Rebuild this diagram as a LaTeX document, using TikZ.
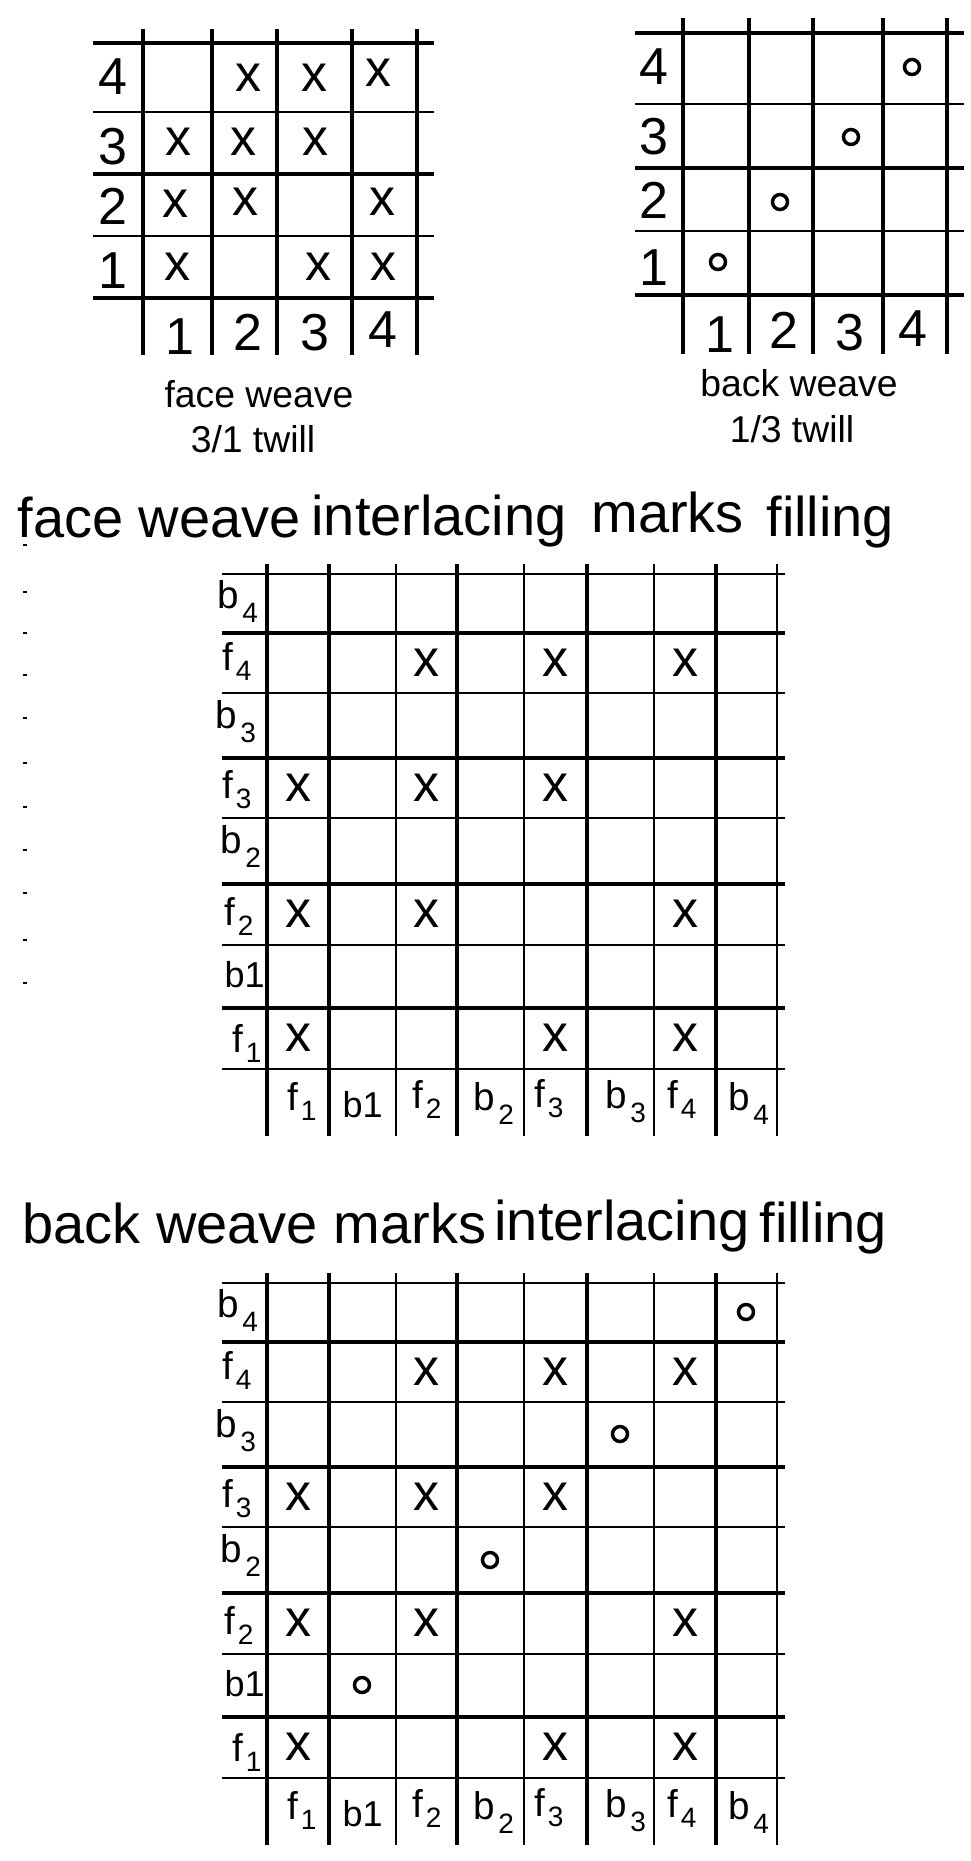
\documentclass[tikz,border=0pt]{standalone}
\usepackage{fontspec}
\setmainfont{Liberation Sans}
\newcommand{\bsub}[1]{b\kern2.5pt\raisebox{-10.5pt}{\fontsize{21}{21}\selectfont #1}}
\newcommand{\fsub}[1]{f\kern2pt\raisebox{-7.5pt}{\fontsize{21}{21}\selectfont #1}}
\newcommand{\bone}{{\fontsize{27}{27}\selectfont b1}}
\tikzset{every picture/.style={line width=0.75pt}}
\tikzset{
  thk/.style={line width=2.6pt},
  thn/.style={line width=2pt},
  edge/.style={line width=3.2pt},
  digit/.style={font=\fontsize{39}{39}\selectfont, inner sep=0pt},
  xmark/.style={font=\fontsize{39}{39}\selectfont, inner sep=0pt},
  caption/.style={font=\fontsize{28}{28}\selectfont, inner sep=0pt, anchor=base},
  heading/.style={font=\fontsize{42}{42}\selectfont, inner sep=0pt, anchor=base west},
  wlabel/.style={font=\fontsize{29}{29}\selectfont, inner sep=0pt, anchor=base west},
  ring/.style={line width=2.6pt}
}

\begin{document}
\begin{tikzpicture}[x=0.75pt,y=0.75pt,yscale=-1,xscale=1]
		\useasboundingbox (0,0) rectangle (971,1861);
		
		%Shape: Grid face weave
		\draw[thk] (93,43) -- (434,43);
		\draw[thn] (93,112) -- (434,112);
		\draw[thk] (93,174) -- (434,174);
		\draw[thn] (93,236) -- (434,236);
		\draw[edge] (93,298) -- (434,298);
		\foreach \x in {143,212,277,352}
		  \draw[thk] (\x,29) -- (\x,355);
		\draw[edge] (417,29) -- (417,355);
		
		% Text Node
		\foreach \n/\y in {4/77,3/147,2/206,1/271}
		  \node[digit] (fr\n) at (113,\y) {\n};
		\foreach \n/\x/\y in {1/180/337,2/248/332,3/315/333,4/383/330}
		  \node[digit] (fc\n) at (\x,\y) {\n};
		\foreach \x/\y [count=\i] in {248/78,314/78,378/73,178/142,243/142,315/142,175/204,245/202,382/202,177/267,318/267,383/267}
		  \node[xmark] (fx\i) at (\x,\y) {x};
		\node[caption] (facecap) at (259,407) {face weave};
		\node[caption] (facetw) at (253,452) {3/1 twill};
		
		%Shape: Grid back weave
		\draw[thk] (635,33) -- (964,33);
		\draw[thn] (635,104) -- (964,104);
		\draw[thk] (635,168) -- (964,168);
		\draw[thn] (635,231) -- (964,231);
		\draw[thk] (635,295) -- (964,295);
		\foreach \x in {683,749,813,883}
		  \draw[thk] (\x,18) -- (\x,354);
		\draw[edge] (947,18) -- (947,354);
		
		% Text Node
		\foreach \n/\y in {4/67,3/137,2/200,1/268}
		  \node[digit] (br\n) at (654,\y) {\n};
		\foreach \n/\x/\y in {1/720/335,2/784/330,3/850/333,4/913/329}
		  \node[digit] (bc\n) at (\x,\y) {\n};
		\foreach \x/\y in {912/67,851/137,780/202,718/262}
		  \draw[ring] (\x,\y) circle (7.5);
		\node[caption] (backcap) at (799,396) {back weave};
		\node[caption] (backtw) at (792,442) {1/3 twill};
		
		% Text Node
		\node[heading] (h1) at (17,537) {face weave};
		\node[heading] (h2) at (311,535) {interlacing};
		\node[heading] (h3) at (591,532) {marks};
		\node[heading] (h4) at (766,536) {filling};
		\node[heading] (h5) at (22,1243) {back weave marks};
		\node[heading] (h6) at (494,1240) {interlacing};
		\node[heading] (h7) at (759,1242) {filling};
		
		%Straight Lines: small dashes
		\foreach \y in {545,592,633,675,718,763,807,850,893,940,983}
		  \draw[line width=2pt] (23,\y) -- (27,\y);
		
		%Shape: Grid interlacing (face, back)
		\foreach \dy/\pre in {0/mid,709/low}{
		\begin{scope}[shift={(0,\dy)},name prefix=\pre-]
		  \foreach \y in {574,693,818,945,1069}
		    \draw[thn] (222,\y) -- (785,\y);
		  \foreach \y in {633,758,884,1008}
		    \draw[thk] (222,\y) -- (785,\y);
		  \foreach \x in {267,329,457,587,716}
		    \draw[thk] (\x,564) -- (\x,1136);
		  \foreach \x in {396,524,654,777}
		    \draw[thn] (\x,564) -- (\x,1136);
		  \foreach \x/\y/\t [count=\i] in {217/608/{\bsub{4}},222/670/{\fsub{4}},215/728/{\bsub{3}},222/798/{\fsub{3}},220/853/{\bsub{2}},224/925/{\fsub{2}},224/987/{\bone},232/1052/{\fsub{1}}}
		    \node[wlabel] (row\i) at (\x,\y) {\t};
		  \foreach \x/\y/\t [count=\i] in {287/1110/{\fsub{1}},342/1117/{\bone},412/1108/{\fsub{2}},473/1110/{\bsub{2}},534/1107/{\fsub{3}},605/1108/{\bsub{3}},667/1108/{\fsub{4}},728/1110/{\bsub{4}}}
		    \node[wlabel] (col\i) at (\x,\y) {\t};
		  \foreach \x/\y [count=\i] in {426/663,555/663,685/663,298/788,426/788,555/788,298/914,426/914,685/914,298/1038,555/1038,685/1038}
		    \node[xmark] (mx\i) at (\x,\y) {x};
		\end{scope}
		}
		
		%Shape: Circle back marks
		\begin{scope}[shift={(0,709)}]
		  \foreach \x/\y in {746/603,620/725,490/851,362/976}
		    \draw[ring] (\x,\y) circle (7.5);
		\end{scope}
		
\end{tikzpicture}
\end{document}
